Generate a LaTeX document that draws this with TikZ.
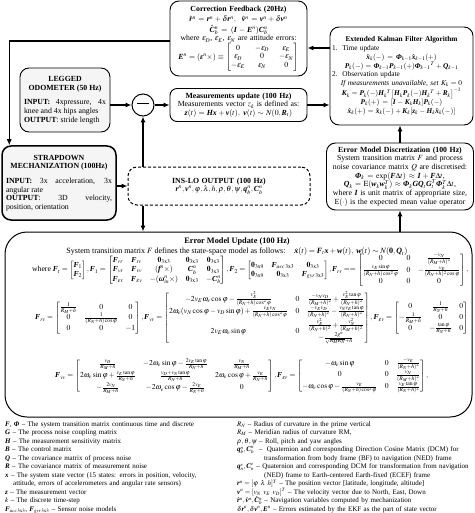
\documentclass[tikz,border=0pt]{standalone}
\usepackage{amsmath}
\usepackage{mathptmx}
\usepackage{fontspec}
\setmainfont{Liberation Serif}
\usepackage{graphicx}
\usetikzlibrary{arrows.meta,calc}
\newcommand\B[1]{\text{\bfseries\itshape #1}}
\newcommand\Bz{\mathbf{0}}
\tikzset{
  box/.style={draw, rounded corners=9pt, line width=0.9pt, inner sep=2pt, align=center,
    font=\fontsize{7.8}{8.7}\selectfont},
  grbox/.style={box, fill=gray!8, align=justify},
  arr/.style={line width=1.1pt, -{Latex[length=6pt,width=5pt]}},
  txt/.style={inner sep=0pt, font=\fontsize{8}{9}\selectfont},
  leg/.style={inner sep=0pt, anchor=north west, align=left, font=\fontsize{7}{8.5}\selectfont},
}
\begin{document}
\begin{tikzpicture}[x=1pt,y=-1pt]
\useasboundingbox (0,0) rectangle (474,513);

% Correction feedback
\node[box, minimum width=137pt, minimum height=75pt, text width=133pt] (CF) at (238.5,38.5) {%
\textbf{Correction Feedback (20Hz)}\\[2pt]
$\hat{\B r}{}^n=\B r^n+\delta\B r^n,\ \ \hat{\B v}{}^n=\B v^n+\delta\B v^n$\\[1.5pt]
$\hat{\B C}{}_b^n=(\B I-\B E^n)\B C_b^n$\\
where $\epsilon_D$, $\epsilon_E$, $\epsilon_N$ are attitude errors:\\
$\B E^n=(\B{ε}^n\times)\equiv\begin{bmatrix}0&-\epsilon_D&\epsilon_E\\ \epsilon_D&0&-\epsilon_N\\ -\epsilon_E&\epsilon_N&0\end{bmatrix}$};

% EKF
\node[box, font=\fontsize{7.3}{8.8}\selectfont, minimum width=143pt, minimum height=98pt, text width=139pt] (EKF) at (401.5,76) {%
\textbf{Extended Kalman Filter Algorithm}\\
\makebox[139pt][l]{1.\ \ Time update}\\
$\hat{\B x}_k(-)=\B{Φ}_{k-1}\hat{\B x}_{k-1}(+)$\\
$\B P_k(-)=\B{Φ}_{k-1}\B P_{k-1}(+)\B{Φ}_{k-1}{}^T+\B Q_{k-1}$\\
\makebox[139pt][l]{2.\ \ Observation update}\\
\textit{If measurements unavailable, set} $K_k=0$\\
$\B K_k=\B P_k(-)\B H_k{}^T\big[\B H_k\B P_k(-)\B H_k{}^T+\B R_k\big]^{-1}$\\
$\B P_k(+)=[\B I-\B K_k\B H_k]\B P_k(-)$\\
$\hat{\B x}_k(+)=\hat{\B x}_k(-)+\B K_k[\B z_k-\B H_k\hat{\B x}_k(-)]$};

% Legged odometer
\node[grbox, minimum width=90pt, minimum height=64pt, text width=82pt] (LO) at (65,100) {%
{\centering\textbf{LEGGED}\\\textbf{ODOMETER (50 Hz)}\par}\vspace{6pt}%
\textbf{INPUT:} 4xpressure, 4x\linebreak knee and 4x hips angles\\
\textbf{OUTPUT}: stride length};

% summation circle
\node[draw, circle, line width=1pt, minimum size=22pt, inner sep=0pt] (circ) at (143,105) {\rule[2.5pt]{12pt}{1.1pt}};

% Measurements update
\node[box, rounded corners=7pt, minimum width=137pt, minimum height=33pt, text width=133pt] (MU) at (238.5,105) {%
\textbf{Measurements update (100 Hz)}\\
Measurements vector $z_k$ is defined as:\\
$\B z(t)=\B H\B x+\B v(t),\ \B v(t)\sim N(0,\B R_t)$};

% Strapdown
\node[grbox, line width=1.5pt, minimum width=114pt, minimum height=74pt, text width=106pt] (SD) at (59,183) {%
{\centering\textbf{STRAPDOWN}\\\textbf{MECHANIZATION (100Hz)}\par}\vspace{6pt}%
\textbf{INPUT:} 3x acceleration, 3x\linebreak angular rate\\
\textbf{OUTPUT}: 3D velocity,\linebreak position, orientation};

% INS-LO output
\node[box, dash pattern=on 3pt off 2pt, line width=1pt, minimum width=182pt, minimum height=38pt, text width=176pt] (INS) at (219,186) {%
\textbf{INS-LO OUTPUT (100 Hz)}\\
$\B r^n,\B v^n,\varphi,\lambda,h,\rho,\theta,\psi,\B q_b^n,\B C_b^n$};

% Error model discretization
\node[box, minimum width=146pt, minimum height=67pt, text width=143pt] (EMD) at (400,176.5) {%
\textbf{Error Model Discretization (100 Hz)}\\
System transition matrix $F$ and process\\
noise covariance matrix $Q$ are discretised:\\
$\B{Φ}_k=\exp(\B F\Delta t)\approx\B I+\B F\Delta t$,\\
$\B Q_k=\mathrm{E}(\B w_k\B w_k^T)\approx\B{Φ}_k\B G\B Q_t\B G_t^T\B{Φ}_k^T\Delta t$,\\
where $\B I$ is unit matrix of appropriate size,\\
E$(\cdot)$ is the expected mean value operator};

% Error model update
\node[draw, rounded corners=22pt, line width=1pt, minimum width=467pt, minimum height=185pt] (EMU) at (238.5,324.5) {};
\node[txt, font=\fontsize{8.3}{9}\selectfont\bfseries] (emut) at (237,242) {Error Model Update (100 Hz)};
\node[txt] (emus) at (176,251.5) {System transition matrix $F$ defines the state-space model as follows:};
\node[txt] (emux) at (351,251.5) {$\dot{\B x}(t)=\B F_t\B x+\B w(t),\ \B w(t)\sim N(\Bz,\B Q_t)$};

\node[inner sep=0pt, anchor=west] (row1) at (32,270) {\resizebox{436pt}{!}{$
\text{where }\B F_t=\begin{bmatrix}\B F_1\\ \B F_2\end{bmatrix},
\B F_1=\begin{bmatrix}\B F_{rr}&\B F_{rv}&\Bz_{\mathrm{3x3}}&\Bz_{\mathrm{3x3}}&\Bz_{\mathrm{3x3}}\\
\B F_{vr}&\B F_{vv}&(\B f^n\times)&\B C_b^n&\Bz_{\mathrm{3x3}}\\
\B F_{\epsilon r}&\B F_{\epsilon v}&-(\B{ω}_{in}^n\times)&\Bz_{\mathrm{3x3}}&-\B C_b^n\end{bmatrix},
\B F_2=\begin{bmatrix}\Bz_{\mathrm{3x9}}&\B F_{acc\,\mathrm{3x3}}&\Bz_{\mathrm{3x3}}\\
\Bz_{\mathrm{3x9}}&\Bz_{\mathrm{3x3}}&\B F_{gyr\,\mathrm{3x3}}\end{bmatrix},
\B F_{rr}==\begin{bmatrix}0&0&\frac{-v_N}{(R_M+h)^2}\\
\frac{v_E\sin\varphi}{(R_N+h)\cos^2\varphi}&0&-\frac{v_E}{(R_N+h)^2\cos\varphi}\\
0&0&0\end{bmatrix},$}};

\node[inner sep=0pt, anchor=west] (row2) at (35,318) {\resizebox{433pt}{!}{$
\B F_{rv}=\begin{bmatrix}\frac{1}{R_M+h}&0&0\\ 0&\frac{1}{(R_N+h)\cos\varphi}&0\\ 0&0&-1\end{bmatrix},
\B F_{vr}=\begin{bmatrix}-2v_E\omega_e\cos\varphi-\frac{v_E^2}{(R_N+h)\cos^2\varphi}&0&\frac{-v_Nv_D}{(R_M+h)^2}+\frac{v_E^2\tan\varphi}{(R_N+h)^2}\\[3pt]
2\omega_e(v_N\cos\varphi-v_D\sin\varphi)+\frac{v_Ev_N}{(R_N+h)\cos^2\varphi}&0&\frac{-v_Ev_D}{(R_N+h)^2}-\frac{v_Nv_E\tan\varphi}{(R_N+h)^2}\\[3pt]
2v_E\omega_e\sin\varphi&0&\begin{matrix}\frac{v_E^2}{(R_N+h)^2}+\frac{v_N^2}{(R_M+h)^2}\\ -\frac{2g^{n}}{\sqrt{R_MR_N}+h}\end{matrix}\end{bmatrix},
\B F_{\epsilon v}=\begin{bmatrix}0&\frac{1}{R_N+h}&0\\ -\frac{1}{R_M+h}&0&0\\ 0&-\frac{\tan\varphi}{R_N+h}&0\end{bmatrix}$}};

\node[inner sep=0pt, anchor=west] (row3) at (55,376) {\resizebox{373pt}{!}{$
\B F_{vv}=\begin{bmatrix}\frac{v_D}{R_M+h}&-2\omega_e\sin\varphi-\frac{2v_E\tan\varphi}{R_N+h}&\frac{v_N}{R_M+h}\\[3pt]
2\omega_e\sin\varphi+\frac{v_E\tan\varphi}{R_N+h}&\frac{v_D+v_N\tan\varphi}{R_N+h}&2\omega_e\cos\varphi+\frac{v_E}{R_N+h}\\[3pt]
-\frac{2v_N}{R_M+h}&-2\omega_e\cos\varphi-\frac{2v_E}{R_N+h}&0\end{bmatrix},
\B F_{\epsilon r}=\begin{bmatrix}-\omega_e\sin\varphi&0&\frac{-v_E}{(R_N+h)^2}\\[3pt]
0&0&\frac{v_N}{(R_M+h)^2}\\[3pt]
-\omega_e\cos\varphi-\frac{v_E}{(R_N+h)\cos^2\varphi}&0&\frac{v_E\tan\varphi}{(R_N+h)^2}\end{bmatrix},$}};

% Legend
\node[leg, text width=232pt] (legL) at (5,421) {%
$\B F$, $\B{Φ}$ -- The system transition matrix continuous time and discrete\\
$\B G$ -- The process noise coupling matrix\\
$\B H$ -- The measurement sensitivity matrix\\
$\B B$ -- The control matrix\\
$\B Q$ -- The covariance matrix of process noise\\
$\B R$ -- The covariance matrix of measurement noise\\
$\B x$ -- The system state vector (15 states: errors in position, velocity,\\
\hspace*{8pt}attitude, errors of accelerometers and angular rate sensors)\\
$\B z$ -- The measurement vector\\
$k$ -- The discrete time-step\\
$\B F_{acc\,\mathrm{3x3}}$, $\B F_{gyr\,\mathrm{3x3}}$ -- Sensor noise models};

\node[leg, text width=233pt] (legR) at (237,421) {%
$R_N$ -- Radius of curvature in the prime vertical\\
$R_M$ -- Meridian radius of curvature RM,\\
$\rho,\theta,\psi$ -- Roll, pitch and yaw angles\\
\makebox[232pt][s]{$\B q_b^n,\B C_b^n$ \ -- \ Quaternion and corresponding Direction Cosine Matrix (DCM) for}\\
\hspace*{27pt}transformation from body frame (BF) to navigation (NED) frame\\
\makebox[232pt][s]{$\B q_n^e,\B C_n^e$ -- Quaternion and corresponding DCM for transformation from navigation}\\
\hspace*{27pt}(NED) frame to Earth-centered Earth-fixed (ECEF) frame\\
$\B r^n=[\varphi\ \lambda\ h]^T$ -- The position vector [latitude, longitude, altitude]\\
$\B v^n=[v_N\ v_E\ v_D]^T$ -- The velocity vector due to North, East, Down\\
$\hat{\B r}{}^n,\hat{\B v}{}^n,\hat{\B C}{}_b^n$ -- Navigation variables computed by mechanization\\
$\delta\B r^n,\delta\B v^n,\B E^n$ -- Errors estimated by the EKF as the part of state vector};

% Connectors
\draw[arr] (CF.west |- 0,41) -| ($(SD.north west)+(8,0)$);
\draw[arr] (EKF.west |- 0,48) -- (CF.east |- 0,48);
\draw[arr] (LO.east |- circ.west) -- (circ.west);
\draw[arr] (circ.east) -- (circ.east -| MU.west);
\draw[arr] (MU.east) -- (MU.east -| EKF.west);
\draw[arr] (SD.east |- INS.west) -- (INS.west);
\draw[arr] (INS.north -| circ.south) -- (circ.south);
\draw[arr] (INS.south -| circ.south) -- (EMU.north -| circ.south);
\draw[arr] (EMU.north -| EMD.south) -- (EMD.south);
\draw[arr] (EMD.north) -- (EMD.north |- EKF.south);
\end{tikzpicture}
\end{document}
